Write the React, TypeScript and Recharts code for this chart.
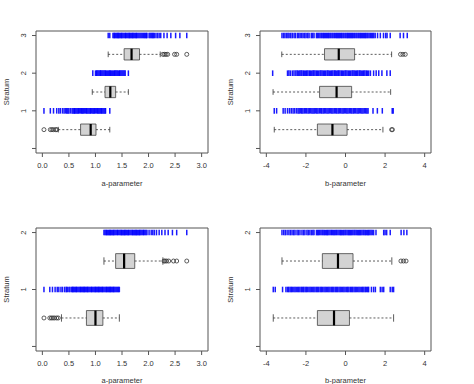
import React from "react"
import { ComposedChart, XAxis, YAxis, Scatter, ReferenceArea, ReferenceLine } from "recharts"

const W = 474
const H = 384

const A_TICKS = [0, 0.5, 1, 1.5, 2, 2.5, 3]
const B_TICKS = [-4, -2, 0, 2, 4]
const Y_TICKS_3 = [0, 1, 2, 3]
const Y_TICKS_2 = [0, 1, 2]
const STRATA_3 = [1, 2, 3]
const STRATA_2 = [1, 2]

// [lower whisker, Q1, median, Q3, upper whisker] per stratum
const A3_STATS = [
  [0.3, 0.72, 0.91, 1.01, 1.27],
  [0.94, 1.18, 1.28, 1.38, 1.62],
  [1.24, 1.54, 1.68, 1.83, 2.22],
]
const B3_STATS = [
  [-3.6, -1.42, -0.66, 0.08, 1.89],
  [-3.66, -1.31, -0.45, 0.31, 2.28],
  [-3.22, -1.06, -0.34, 0.46, 2.33],
]
const A2_STATS = [
  [0.36, 0.83, 1.0, 1.14, 1.45],
  [1.16, 1.38, 1.54, 1.74, 2.27],
]
const B2_STATS = [
  [-3.65, -1.42, -0.58, 0.2, 2.43],
  [-3.21, -1.17, -0.38, 0.38, 2.34],
]

const A3_OUT = [[0.03, 0.15, 0.18, 0.21, 0.25, 0.27], [], [2.27, 2.3, 2.33, 2.36, 2.49, 2.53, 2.72]]
const B3_OUT = [[2.33, 2.37], [], [2.78, 2.9, 3.02]]
const A2_OUT = [[0.03, 0.14, 0.17, 0.2, 0.23, 0.27, 0.3], [2.29, 2.31, 2.34, 2.38, 2.47, 2.53, 2.72]]
const B2_OUT = [[], [2.8, 2.93, 3.06]]

// rug values (one list per stratum)
const A3_RUG_1 = [0.03, 0.15, 0.21, 0.27, 0.31, 0.34, 0.38, 0.41, 0.44, 0.46, 0.48, 0.5, 0.53, 0.56, 0.58, 0.6, 0.61, 0.63, 0.65, 0.67, 0.68, 0.7, 0.72, 0.74, 0.75, 0.77, 0.79, 0.81, 0.83, 0.84, 0.86, 0.88, 0.9, 0.91, 0.93, 0.95, 0.97, 0.98, 1.0, 1.02, 1.04, 1.05, 1.07, 1.09, 1.11, 1.12, 1.14, 1.16, 1.18, 1.19, 1.27]
const A3_RUG_2 = [0.95, 1.0, 1.02, 1.03, 1.05, 1.07, 1.09, 1.1, 1.12, 1.14, 1.16, 1.18, 1.19, 1.21, 1.23, 1.25, 1.27, 1.28, 1.3, 1.32, 1.34, 1.36, 1.37, 1.39, 1.41, 1.43, 1.45, 1.46, 1.48, 1.5, 1.52, 1.54, 1.56, 1.62]
const A3_RUG_3 = [1.24, 1.27, 1.33, 1.35, 1.36, 1.38, 1.4, 1.42, 1.43, 1.45, 1.47, 1.49, 1.5, 1.52, 1.54, 1.56, 1.57, 1.59, 1.61, 1.63, 1.64, 1.66, 1.68, 1.7, 1.71, 1.73, 1.75, 1.77, 1.78, 1.8, 1.82, 1.84, 1.86, 1.88, 1.9, 1.92, 1.94, 1.96, 1.97, 2.01, 2.03, 2.05, 2.07, 2.09, 2.11, 2.14, 2.17, 2.2, 2.23, 2.29, 2.35, 2.42, 2.51, 2.59, 2.72]

const B3_RUG_1 = [-3.6, -3.48, -3.15, -3.05, -2.93, -2.83, -2.74, -2.65, -2.57, -2.48, -2.4, -2.34, -2.27, -2.21, -2.15, -2.08, -2.02, -1.96, -1.89, -1.83, -1.77, -1.7, -1.64, -1.58, -1.51, -1.45, -1.39, -1.32, -1.26, -1.2, -1.13, -1.07, -1.01, -0.94, -0.88, -0.82, -0.75, -0.69, -0.63, -0.56, -0.5, -0.44, -0.37, -0.31, -0.25, -0.18, -0.12, -0.06, 0.01, 0.07, 0.13, 0.2, 0.26, 0.32, 0.39, 0.45, 0.51, 0.58, 0.64, 0.7, 0.77, 0.83, 0.89, 0.96, 1.02, 1.08, 1.14, 1.39, 1.61, 1.86, 2.36, 2.41]
const B3_RUG_2 = [-3.68, -2.93, -2.86, -2.78, -2.68, -2.6, -2.51, -2.44, -2.38, -2.31, -2.25, -2.2, -2.13, -2.08, -2.01, -1.96, -1.9, -1.83, -1.78, -1.72, -1.65, -1.6, -1.54, -1.47, -1.42, -1.36, -1.29, -1.24, -1.18, -1.11, -1.06, -1.0, -0.93, -0.88, -0.82, -0.75, -0.7, -0.64, -0.57, -0.52, -0.46, -0.39, -0.34, -0.28, -0.21, -0.16, -0.1, -0.03, 0.02, 0.08, 0.15, 0.2, 0.26, 0.33, 0.38, 0.44, 0.51, 0.56, 0.62, 0.69, 0.74, 0.8, 0.87, 0.92, 0.98, 1.05, 1.1, 1.17, 1.26, 1.42, 1.55, 1.68, 1.84, 2.09, 2.26]
const B3_RUG_3 = [-3.21, -3.13, -3.06, -2.98, -2.91, -2.85, -2.77, -2.69, -2.6, -2.53, -2.43, -2.36, -2.29, -2.21, -2.14, -2.06, -1.99, -1.91, -1.84, -1.73, -1.66, -1.59, -1.47, -1.41, -1.35, -1.29, -1.23, -1.18, -1.12, -1.07, -1.01, -0.96, -0.9, -0.85, -0.79, -0.74, -0.68, -0.63, -0.57, -0.52, -0.46, -0.41, -0.35, -0.3, -0.24, -0.19, -0.13, -0.08, -0.02, 0.03, 0.09, 0.14, 0.2, 0.25, 0.31, 0.36, 0.42, 0.47, 0.53, 0.58, 0.64, 0.69, 0.75, 0.8, 0.86, 0.91, 0.97, 1.02, 1.08, 1.13, 1.19, 1.25, 1.31, 1.37, 1.43, 1.5, 1.62, 1.76, 1.92, 2.03, 2.1, 2.26, 2.76, 2.93, 3.12]

const A2_RUG_1 = [0.03, 0.14, 0.19, 0.24, 0.28, 0.31, 0.35, 0.38, 0.42, 0.45, 0.47, 0.5, 0.52, 0.55, 0.57, 0.58, 0.6, 0.62, 0.64, 0.65, 0.67, 0.69, 0.71, 0.72, 0.74, 0.76, 0.78, 0.79, 0.81, 0.83, 0.85, 0.86, 0.88, 0.9, 0.92, 0.93, 0.95, 0.97, 0.99, 1.0, 1.02, 1.04, 1.06, 1.07, 1.09, 1.11, 1.13, 1.14, 1.16, 1.18, 1.2, 1.21, 1.23, 1.25, 1.27, 1.28, 1.3, 1.32, 1.34, 1.35, 1.37, 1.39, 1.41, 1.43, 1.45]
const A2_RUG_2 = [1.16, 1.18, 1.2, 1.21, 1.23, 1.25, 1.27, 1.28, 1.3, 1.32, 1.34, 1.35, 1.37, 1.39, 1.41, 1.42, 1.44, 1.46, 1.48, 1.49, 1.51, 1.53, 1.55, 1.56, 1.58, 1.6, 1.62, 1.63, 1.65, 1.67, 1.69, 1.7, 1.72, 1.74, 1.76, 1.77, 1.79, 1.81, 1.83, 1.84, 1.86, 1.88, 1.9, 1.91, 1.93, 1.95, 1.97, 2.01, 2.05, 2.08, 2.11, 2.15, 2.2, 2.25, 2.31, 2.37, 2.45, 2.53, 2.72]

const B2_RUG_1 = [-3.65, -3.55, -3.18, -3.01, -2.93, -2.87, -2.8, -2.74, -2.68, -2.61, -2.55, -2.49, -2.42, -2.36, -2.3, -2.23, -2.17, -2.11, -2.04, -1.98, -1.92, -1.85, -1.79, -1.73, -1.66, -1.6, -1.54, -1.47, -1.41, -1.35, -1.28, -1.22, -1.16, -1.09, -1.03, -0.97, -0.9, -0.84, -0.78, -0.71, -0.65, -0.59, -0.52, -0.46, -0.4, -0.33, -0.27, -0.21, -0.14, -0.08, -0.02, 0.05, 0.11, 0.17, 0.24, 0.3, 0.36, 0.43, 0.49, 0.55, 0.62, 0.68, 0.74, 0.81, 0.87, 0.93, 1.0, 1.06, 1.12, 1.17, 1.31, 1.42, 1.51, 1.76, 1.85, 1.93, 2.26, 2.36, 2.43]
const B2_RUG_2 = [-3.21, -3.12, -3.04, -2.95, -2.86, -2.78, -2.7, -2.62, -2.55, -2.45, -2.38, -2.3, -2.2, -2.12, -2.05, -1.95, -1.88, -1.8, -1.72, -1.65, -1.59, -1.47, -1.41, -1.36, -1.3, -1.24, -1.18, -1.13, -1.07, -1.01, -0.95, -0.9, -0.84, -0.78, -0.72, -0.67, -0.61, -0.55, -0.49, -0.44, -0.38, -0.32, -0.26, -0.21, -0.15, -0.09, -0.03, 0.02, 0.08, 0.14, 0.2, 0.25, 0.31, 0.37, 0.43, 0.48, 0.54, 0.6, 0.66, 0.71, 0.77, 0.83, 0.89, 0.94, 1.0, 1.06, 1.12, 1.17, 1.23, 1.29, 1.35, 1.42, 1.54, 1.93, 2.0, 2.08, 2.26, 2.81, 2.95, 3.1]

const FRAME = "#555"
const TEXT = "#333"
const FONT = 7.5

type Box = { left: number; top: number; right: number; bottom: number }

type PanelProps = {
  box: Box
  xDomain: [number, number]
  yDomain: [number, number]
  xTicks: number[]
  yTicks: number[]
  xLabel: string
  fmt: (v: number) => string
  strata: number[]
  stats: number[][]
  rugs: number[][]
  outliers: number[][]
  half: number
}

function StratumTick(props: any) {
  const { x, y, payload } = props
  if (payload.value === 0) return <g />
  const tx = x - 8.7
  return (
    <text
      x={tx}
      y={y}
      transform={`rotate(-90, ${tx}, ${y})`}
      textAnchor="middle"
      dominantBaseline="central"
      fontSize={FONT}
      fill={TEXT}
    >
      {payload.value}
    </text>
  )
}

function RugMark(props: any) {
  const { cx, cy } = props
  return <line x1={cx} x2={cx} y1={cy - 2.8} y2={cy + 2.8} stroke="#0000ff" strokeWidth={1.5} strokeOpacity={0.9} />
}

function OutlierMark(props: any) {
  const { cx, cy } = props
  return <circle cx={cx} cy={cy} r={2} fill="none" stroke="#333" strokeWidth={0.8} />
}

function Panel(p: PanelProps) {
  const xh = H - p.box.bottom > 40 ? 33 : 32
  const rugData = p.rugs.flatMap((vals, i) => vals.map((x) => ({ x, y: p.strata[i] })))
  const outData = p.outliers.flatMap((vals, i) => vals.map((x) => ({ x, y: p.strata[i] - 0.5 })))
  const cap = p.half / 2

  return (
    <div style={{ position: "absolute", left: 0, top: 0 }}>
      <ComposedChart
        width={W}
        height={H}
        margin={{ top: p.box.top, left: p.box.left - 30, right: W - p.box.right, bottom: H - p.box.bottom - xh }}
      >
        <XAxis
          type="number"
          dataKey="x"
          domain={p.xDomain}
          ticks={p.xTicks}
          interval={0}
          allowDataOverflow
          tickFormatter={p.fmt}
          height={xh}
          stroke={FRAME}
          tickSize={4}
          tickMargin={6}
          tick={{ fontSize: FONT, fill: TEXT }}
          label={{ value: p.xLabel, position: "insideBottom", offset: 0, style: { fontSize: FONT, fill: TEXT } }}
        />
        <YAxis
          type="number"
          dataKey="y"
          domain={p.yDomain}
          ticks={p.yTicks}
          interval={0}
          allowDataOverflow
          width={30}
          stroke={FRAME}
          tickSize={4}
          tickMargin={0}
          tick={(t: any) => <StratumTick {...t} />}
          label={{ value: "Stratum", angle: -90, position: "insideLeft", offset: 0, style: { textAnchor: "middle", fontSize: FONT, fill: TEXT } }}
        />
        <ReferenceLine y={p.yDomain[1]} stroke={FRAME} />
        <ReferenceLine x={p.xDomain[1]} stroke={FRAME} />

        {p.stats.map((s, i) => {
          const pos = p.strata[i] - 0.5
          return (
            <React.Fragment key={`w${i}`}>
              <ReferenceLine segment={[{ x: s[0], y: pos }, { x: s[1], y: pos }]} stroke="#333" strokeWidth={0.8} strokeDasharray="2 2" />
              <ReferenceLine segment={[{ x: s[3], y: pos }, { x: s[4], y: pos }]} stroke="#333" strokeWidth={0.8} strokeDasharray="2 2" />
              <ReferenceLine segment={[{ x: s[0], y: pos - cap }, { x: s[0], y: pos + cap }]} stroke="#333" strokeWidth={0.8} />
              <ReferenceLine segment={[{ x: s[4], y: pos - cap }, { x: s[4], y: pos + cap }]} stroke="#333" strokeWidth={0.8} />
            </React.Fragment>
          )
        })}
        {p.stats.map((s, i) => {
          const pos = p.strata[i] - 0.5
          return (
            <ReferenceArea
              key={`b${i}`}
              x1={s[1]}
              x2={s[3]}
              y1={pos - p.half}
              y2={pos + p.half}
              fill="#d3d3d3"
              fillOpacity={1}
              stroke="#444"
              strokeWidth={0.8}
            />
          )
        })}
        {p.stats.map((s, i) => {
          const pos = p.strata[i] - 0.5
          return (
            <ReferenceLine
              key={`m${i}`}
              segment={[{ x: s[2], y: pos - p.half }, { x: s[2], y: pos + p.half }]}
              stroke="#000"
              strokeWidth={2.2}
            />
          )
        })}

        <Scatter data={rugData} shape={(s: any) => <RugMark {...s} />} isAnimationActive={false} />
        <Scatter data={outData} shape={(s: any) => <OutlierMark {...s} />} isAnimationActive={false} />
      </ComposedChart>
    </div>
  )
}

const fmtA = (v: number) => v.toFixed(1)
const fmtB = (v: number) => String(v)

export default function App() {
  return (
    <div
      style={{
        position: "absolute",
        left: 0,
        top: 0,
        width: W,
        height: H,
        background: "#fff",
        overflow: "hidden",
        fontFamily: "'Liberation Sans', Arial, sans-serif",
      }}
    >
      <Panel
        box={{ left: 36, top: 31, right: 208, bottom: 153 }}
        xDomain={[-0.12, 3.12]}
        yDomain={[-0.12, 3.12]}
        xTicks={A_TICKS}
        yTicks={Y_TICKS_3}
        xLabel="a-parameter"
        fmt={fmtA}
        strata={STRATA_3}
        stats={A3_STATS}
        rugs={[A3_RUG_1, A3_RUG_2, A3_RUG_3]}
        outliers={A3_OUT}
        half={0.15}
      />
      <Panel
        box={{ left: 260, top: 31, right: 431, bottom: 153 }}
        xDomain={[-4.32, 4.32]}
        yDomain={[-0.12, 3.12]}
        xTicks={B_TICKS}
        yTicks={Y_TICKS_3}
        xLabel="b-parameter"
        fmt={fmtB}
        strata={STRATA_3}
        stats={B3_STATS}
        rugs={[B3_RUG_1, B3_RUG_2, B3_RUG_3]}
        outliers={B3_OUT}
        half={0.15}
      />
      <Panel
        box={{ left: 36, top: 228, right: 208, bottom: 351 }}
        xDomain={[-0.12, 3.12]}
        yDomain={[-0.08, 2.08]}
        xTicks={A_TICKS}
        yTicks={Y_TICKS_2}
        xLabel="a-parameter"
        fmt={fmtA}
        strata={STRATA_2}
        stats={A2_STATS}
        rugs={[A2_RUG_1, A2_RUG_2]}
        outliers={A2_OUT}
        half={0.13}
      />
      <Panel
        box={{ left: 260, top: 228, right: 431, bottom: 351 }}
        xDomain={[-4.32, 4.32]}
        yDomain={[-0.08, 2.08]}
        xTicks={B_TICKS}
        yTicks={Y_TICKS_2}
        xLabel="b-parameter"
        fmt={fmtB}
        strata={STRATA_2}
        stats={B2_STATS}
        rugs={[B2_RUG_1, B2_RUG_2]}
        outliers={B2_OUT}
        half={0.13}
      />
    </div>
  )
}
